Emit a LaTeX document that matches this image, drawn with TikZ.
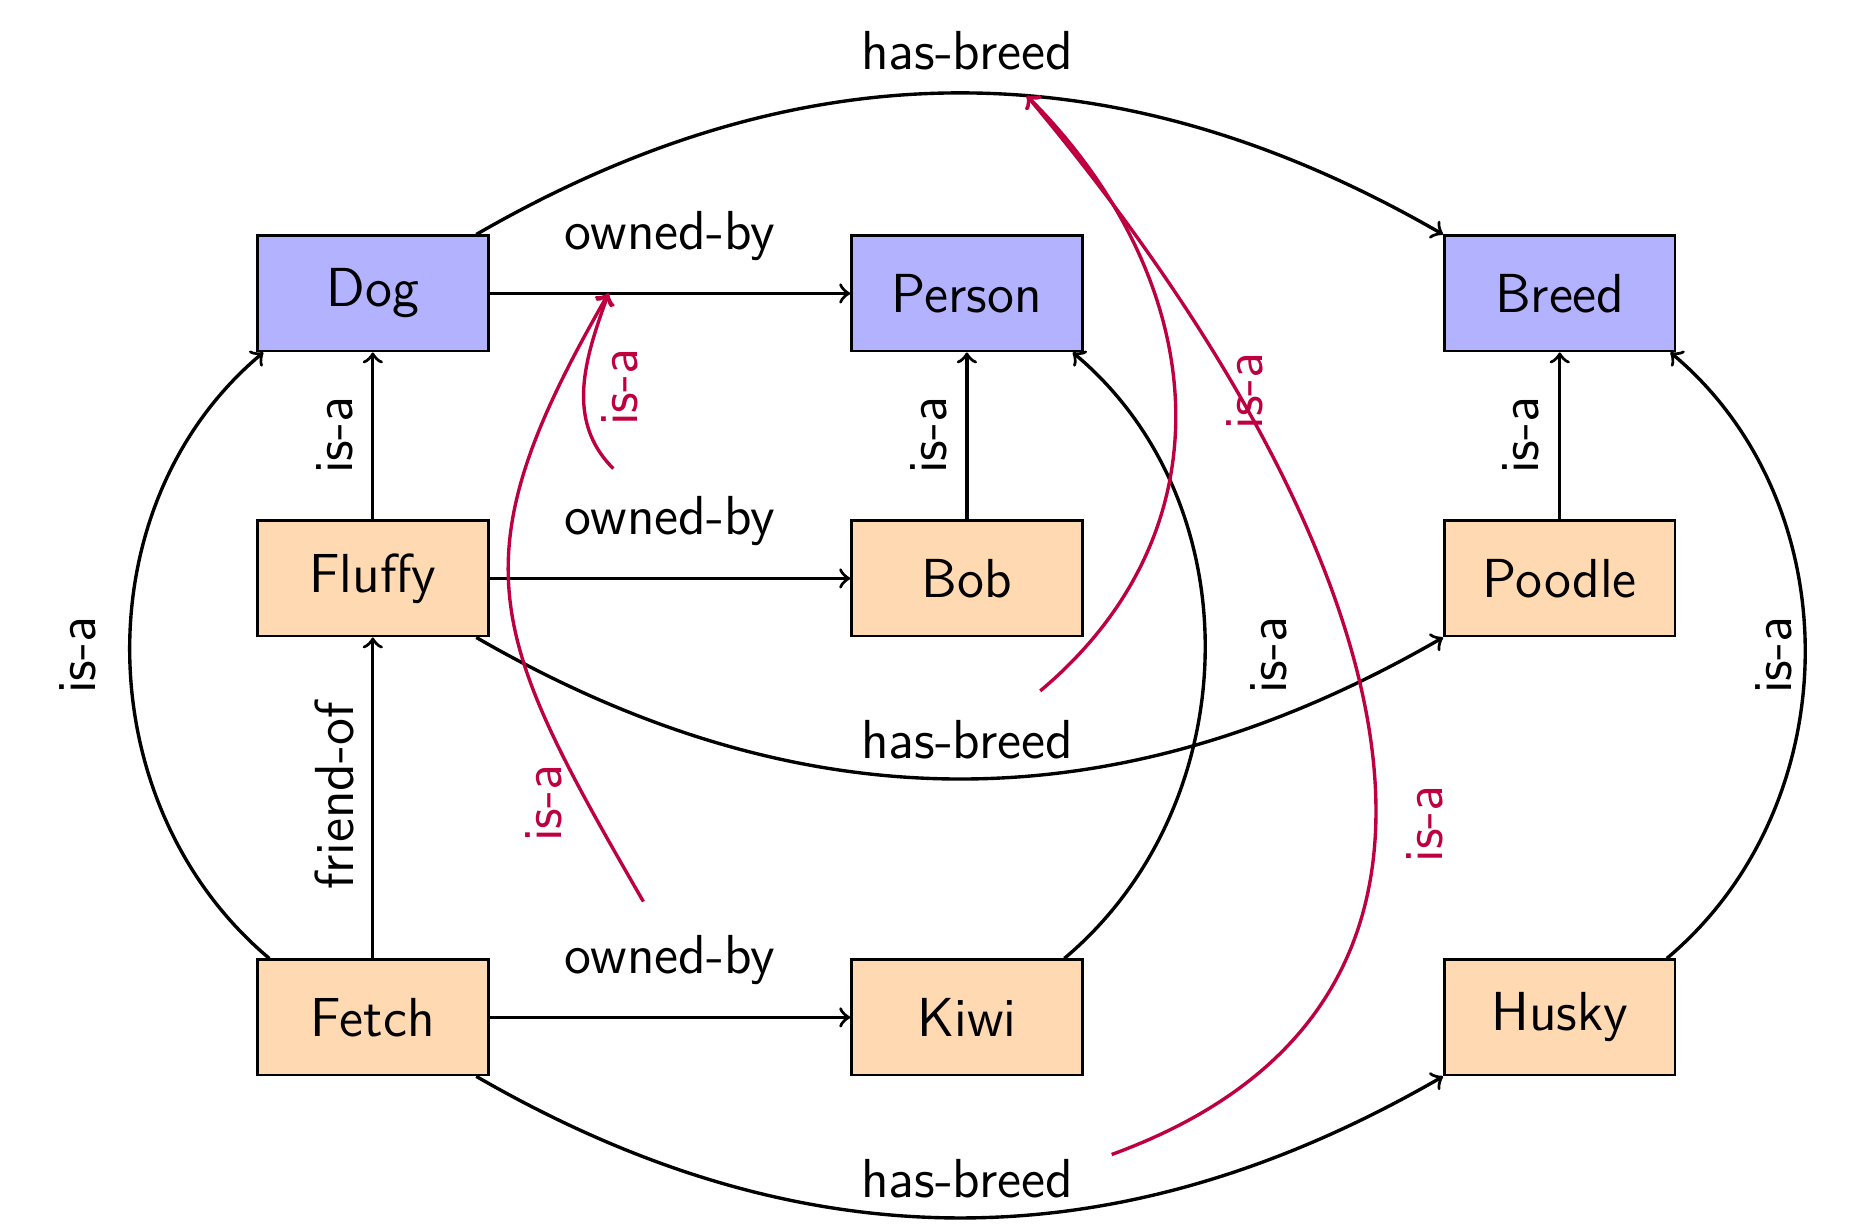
\documentclass[tikz,border=0pt]{standalone}
\usepackage{fontspec}
\setmainfont{Latin Modern Sans}
\begin{document}
\begin{tikzpicture}[
  font=\fontsize{13}{15}\selectfont,
  box/.style={draw, line width=0.6pt, minimum width=1.92cm, minimum height=0.96cm, inner sep=0pt},
  cls/.style={box, fill=blue!30},
  ind/.style={box, fill=orange!30},
  arr/.style={->, line width=0.8pt},
  red/.style={->, line width=0.8pt, draw=purple},
  rl/.style={text=purple, rotate=90},
  bl/.style={rotate=90}
]
\useasboundingbox (0,0) rectangle (15.6,-10.18);
\node[cls] (Dog) at (3.10,-2.44) {Dog};
\node[cls] (Person) at (8.04,-2.44) {Person};
\node[cls] (Breed) at (12.97,-2.44) {Breed};
\node[ind] (Fluffy) at (3.10,-4.81) {Fluffy};
\node[ind] (Bob) at (8.04,-4.81) {Bob};
\node[ind] (Poodle) at (12.97,-4.81) {Poodle};
\node[ind] (Fetch) at (3.10,-8.46) {Fetch};
\node[ind] (Kiwi) at (8.04,-8.46) {Kiwi};
\node[ind] (Husky) at (12.97,-8.46) {Husky};

\draw[arr] (Dog) -- coordinate[pos=0.33] (t1) node[midway, above=4pt] (ob1) {owned-by} (Person);
\draw[arr] (Fluffy) -- node[midway, above=4pt] (ob2) {owned-by} (Bob);
\draw[arr] (Fetch) -- node[midway, above=4pt] (ob3) {owned-by} (Kiwi);

\draw[arr] (Fluffy) -- (Dog);
\draw[arr] (Bob) -- (Person);
\draw[arr] (Poodle) -- (Breed);
\draw[arr] (Fetch) -- (Fluffy);
\node[bl] (l1) at (2.78,-3.62) {is-a};
\node[bl] (l2) at (7.72,-3.62) {is-a};
\node[bl] (l3) at (12.65,-3.62) {is-a};
\node[bl] (l4) at (2.78,-6.62) {friend-of};

\draw[arr] ([xshift=-0.11cm]Dog.north east) to[out=30,in=150] coordinate[pos=0.57] (t2) (Breed.north west);
\node (hb1) at (8.04,-0.42) {has-breed};
\draw[arr] ([xshift=-0.11cm]Fluffy.south east) to[out=-30,in=-150] (Poodle.south west);
\node (hb2) at (8.04,-6.15) {has-breed};
\draw[arr] ([xshift=-0.11cm]Fetch.south east) to[out=-30,in=-150] (Husky.south west);
\node (hb3) at (8.04,-9.80) {has-breed};

\draw[arr] ([xshift=0.11cm]Fetch.north west) to[out=140,in=-140] ([xshift=0.06cm]Dog.south west);
\node[bl] at (0.65,-5.45) {is-a};
\draw[arr] ([xshift=-0.16cm]Kiwi.north east) to[out=40,in=-40] ([xshift=-0.09cm]Person.south east);
\node[bl] at (10.55,-5.45) {is-a};
\draw[arr] ([xshift=-0.08cm]Husky.north east) to[out=40,in=-40] ([xshift=-0.05cm]Breed.south east);
\node[bl] at (14.75,-5.45) {is-a};

\draw[red] ([xshift=-0.47cm,yshift=0.1cm]ob2.north) to[out=135,in=-110] (t1);
\node[rl] at (5.15,-3.22) {is-a};
\draw[red] ([xshift=-0.22cm,yshift=0.15cm]ob3.north) to[out=120,in=-120,looseness=1.3] (t1);
\node[rl] at (4.52,-6.68) {is-a};
\draw[red] ([xshift=0.61cm,yshift=0.12cm]hb2.north) to[out=40,in=-45,looseness=1.1] (t2);
\node[rl] at (10.35,-3.25) {is-a};
\draw[red] ([xshift=0.2cm,yshift=0.2cm]hb3.east) to[out=20,in=-50,looseness=1.2] (t2);
\node[rl] at (11.85,-6.85) {is-a};
\end{tikzpicture}
\end{document}
